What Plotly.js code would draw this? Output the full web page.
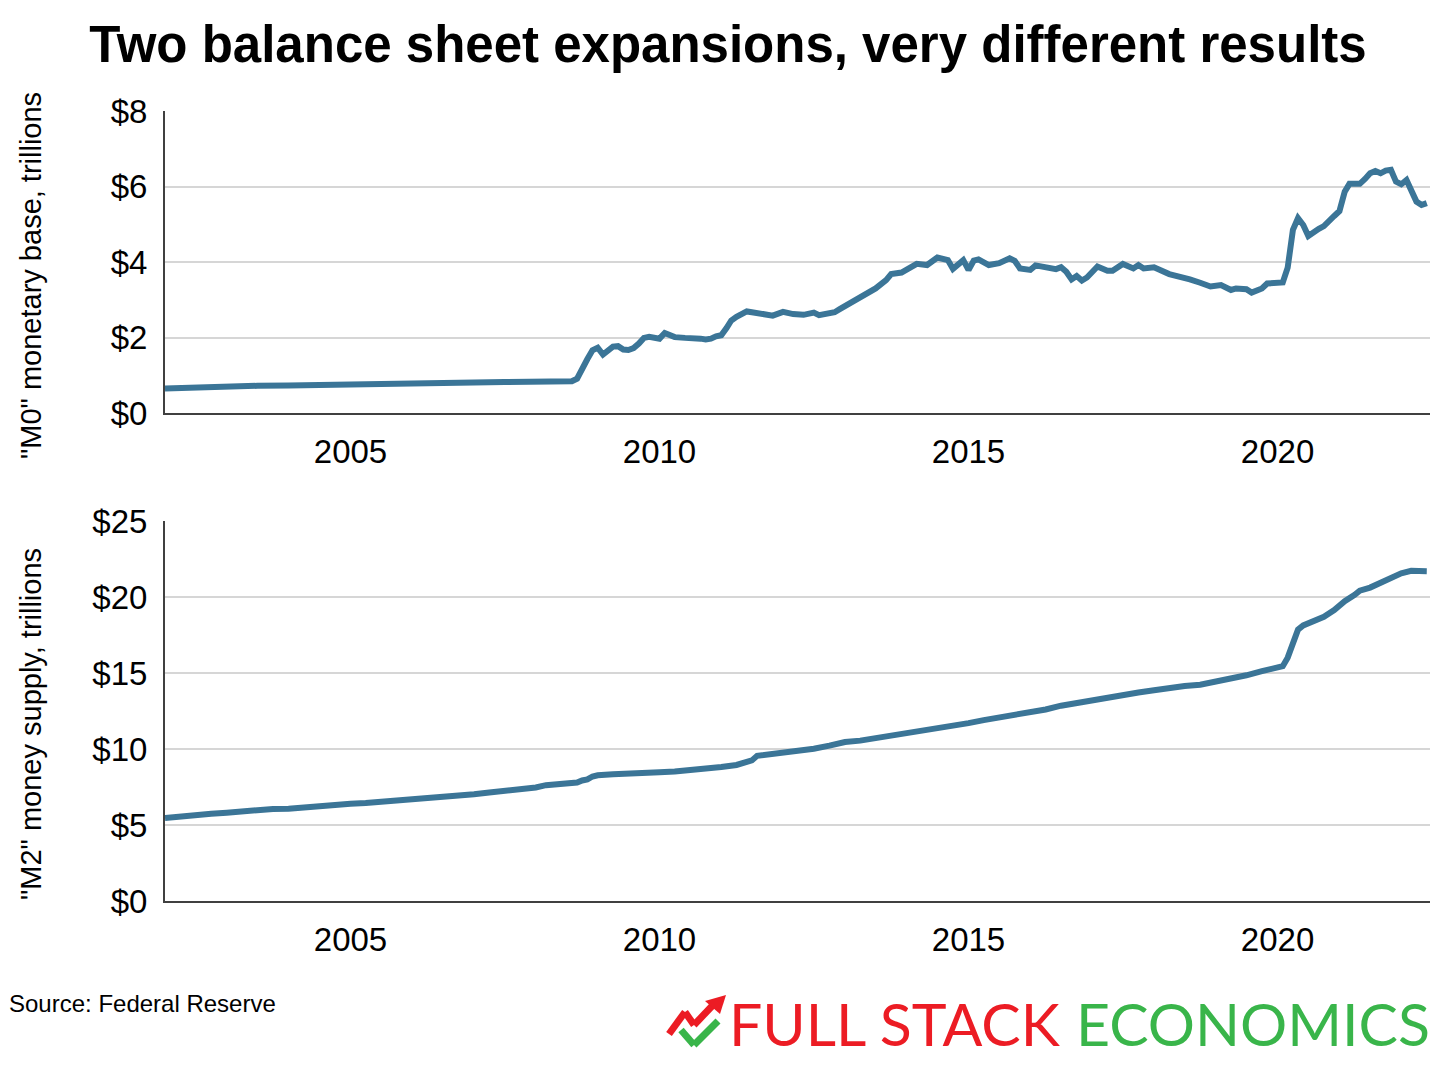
<!DOCTYPE html>
<html><head><meta charset="utf-8">
<script src="https://cdn.plot.ly/plotly-3.0.1.min.js"></script>
<style>html,body{margin:0;padding:0;background:#fff}#chart{width:1456px;height:1092px}</style>
</head><body><div id="chart"></div>
<script>
// "M0" monetary base, trillions of dollars
const m0Dates = ['2002-01','2002-07','2003-01','2003-07','2004-01','2004-07','2005-01','2005-07','2006-01','2006-07','2007-01','2007-07','2008-01','2008-07','2008-08','2008-09','2008-10','2008-11','2008-12',
'2009-01','2009-02','2009-03','2009-04','2009-05','2009-06','2009-07','2009-08','2009-09','2009-10','2009-11','2009-12',
'2010-01','2010-02','2010-03','2010-04','2010-06','2010-08','2010-09','2010-10','2010-11','2010-12',
'2011-01','2011-02','2011-03','2011-04','2011-05','2011-06','2011-07','2011-09','2011-11',
'2012-01','2012-03','2012-05','2012-07','2012-08','2012-10','2012-11','2012-12',
'2013-02','2013-04','2013-07','2013-09','2013-10','2013-12',
'2014-02','2014-03','2014-05','2014-06','2014-07','2014-09','2014-10','2014-12',
'2015-01','2015-02','2015-03','2015-05','2015-07','2015-09','2015-10','2015-11',
'2016-01','2016-02','2016-04','2016-06','2016-07','2016-08','2016-09','2016-10','2016-11','2016-12',
'2017-02','2017-04','2017-05','2017-07','2017-09','2017-10','2017-11',
'2018-01','2018-04','2018-06','2018-08','2018-10','2018-12',
'2019-02','2019-04','2019-05','2019-07','2019-08','2019-10','2019-11','2019-12',
'2020-01','2020-02','2020-03','2020-04','2020-05','2020-06','2020-07','2020-08','2020-09','2020-10','2020-11','2020-12',
'2021-01','2021-02','2021-03','2021-04','2021-05','2021-06','2021-07','2021-08','2021-09','2021-10','2021-11','2021-12',
'2022-01','2022-02','2022-03','2022-04','2022-05','2022-06'];
const m0Values = [0.65,0.68,0.70,0.72,0.73,0.75,0.77,0.78,0.79,0.80,0.81,0.82,0.82,0.83,0.84,0.91,1.13,1.43,1.66,
1.73,1.55,1.65,1.76,1.77,1.68,1.67,1.72,1.84,1.99,2.02,1.99,
1.97,2.12,2.06,2.01,1.99,1.99,1.97,1.95,1.97,2.03,
2.06,2.25,2.45,2.55,2.62,2.69,2.67,2.64,2.58,
2.68,2.62,2.60,2.66,2.59,2.63,2.67,2.75,
2.92,3.08,3.30,3.52,3.68,3.72,
3.86,3.95,3.92,4.01,4.12,4.05,3.82,4.05,
3.79,4.04,4.07,3.92,3.97,4.10,4.03,3.83,
3.79,3.91,3.86,3.81,3.86,3.74,3.54,3.63,3.51,3.59,
3.88,3.77,3.77,3.95,3.83,3.92,3.83,
3.86,3.68,3.63,3.54,3.45,3.35,
3.39,3.26,3.30,3.28,3.19,3.30,3.43,3.43,
3.43,3.46,3.85,4.85,5.16,4.98,4.69,4.80,4.88,4.95,5.11,5.22,
5.35,5.86,6.07,6.06,6.07,6.20,6.35,6.41,6.35,6.42,6.44,6.13,
6.06,6.17,5.91,5.60,5.51,5.56];

// "M2" money supply, trillions of dollars
const m2Dates = ['2002-01','2002-04','2002-07','2002-10','2003-01','2003-04','2003-07','2003-10','2004-01','2004-04','2004-07','2004-10',
'2005-01','2005-04','2005-07','2005-10','2006-01','2006-04','2006-07','2006-10','2007-01','2007-04','2007-07','2007-10',
'2008-01','2008-03','2008-06','2008-09','2008-10','2008-11','2008-12','2009-01','2009-04','2009-07','2009-10',
'2010-01','2010-04','2010-07','2010-10','2011-01','2011-04','2011-07','2011-08','2011-10',
'2012-01','2012-04','2012-07','2012-10','2013-01','2013-04','2013-07','2013-10','2014-01','2014-04','2014-07','2014-10',
'2015-01','2015-04','2015-07','2015-10','2016-01','2016-04','2016-07','2016-10','2017-01','2017-04','2017-07','2017-10',
'2018-01','2018-04','2018-07','2018-10','2019-01','2019-04','2019-07','2019-10',
'2020-01','2020-02','2020-03','2020-04','2020-05','2020-06','2020-07','2020-08','2020-10','2020-12',
'2021-02','2021-04','2021-05','2021-07','2021-09','2021-11','2022-01','2022-03','2022-04','2022-06'];
const m2Values = [5.46,5.52,5.64,5.74,5.81,5.88,6.05,6.06,6.07,6.17,6.24,6.30,
6.40,6.45,6.52,6.60,6.69,6.75,6.84,6.92,7.03,7.14,7.24,7.36,
7.47,7.62,7.68,7.79,7.93,8.00,8.19,8.27,8.34,8.41,8.42,
8.47,8.52,8.60,8.71,8.82,8.95,9.25,9.55,9.62,
9.76,9.88,10.02,10.22,10.46,10.55,10.70,10.86,11.04,11.20,11.38,11.50,
11.70,11.90,12.05,12.20,12.38,12.60,12.85,13.03,13.24,13.43,13.60,13.72,
13.86,14.02,14.15,14.23,14.43,14.56,14.85,15.12,
15.41,15.45,16.01,17.05,17.85,18.13,18.28,18.38,18.70,19.14,
19.73,20.15,20.42,20.62,20.93,21.25,21.56,21.72,21.68,21.70];

const yearTicks = ['2005-01-01','2010-01-01','2015-01-01','2020-01-01'];
const yearLabels = ['2005','2010','2015','2020'];
const m0Ticks = [0,2,4,6,8];
const m2Ticks = [0,5,10,15,20,25];

const LINE = '#3b7597';
const FONT = 'Liberation Sans, Arial, sans-serif';
const W = 1456, H = 1092, ML = 165, MR = 26, MT = 111, MB = 191;
const PW = W - ML - MR, PH = H - MT - MB;
const px = v => (v - ML) / PW;
const py = v => (H - MB - v) / PH;

const traces = [
  {x: m0Dates, y: m0Values, type: 'scatter', mode: 'lines', line: {color: LINE, width: 6}, xaxis: 'x', yaxis: 'y', hoverinfo: 'skip'},
  {x: m2Dates, y: m2Values, type: 'scatter', mode: 'lines', line: {color: LINE, width: 6}, xaxis: 'x2', yaxis: 'y2', hoverinfo: 'skip'}
];

const xCommon = {
  type: 'date', range: ['2002-01-01', '2022-06-20'], tickmode: 'array',
  tickvals: yearTicks, ticktext: yearLabels, showgrid: false, zeroline: false,
  showline: true, linecolor: '#404040', linewidth: 2, ticks: '',
  ticklabelstandoff: 8, tickfont: {family: FONT, size: 33, color: '#000'}
};
const yCommon = {
  showgrid: true, gridcolor: '#d6d6d6', gridwidth: 2, zeroline: false,
  showline: true, linecolor: '#404040', linewidth: 2, ticks: '', tickmode: 'array',
  ticklabelstandoff: 9, tickfont: {family: FONT, size: 33, color: '#000'}
};

function seg(x0, y0, x1, y1, color) {
  return {type: 'line', xref: 'paper', yref: 'paper', x0: px(x0), y0: py(y0), x1: px(x1), y1: py(y1),
    line: {color: color, width: 7}};
}
const RED = '#ec1c24', GREEN = '#39b54a';
const shapes = [
  seg(669, 1034, 685, 1012, RED), seg(685, 1012, 694, 1025, RED), seg(694, 1025, 714, 1004, RED),
  {type: 'path', xref: 'paper', yref: 'paper',
   path: 'M' + px(726) + ',' + py(995) + ' L' + px(705) + ',' + py(1001) + ' L' + px(720) + ',' + py(1014) + ' Z',
   fillcolor: RED, line: {width: 0}},
  seg(681, 1030, 694, 1045, GREEN), seg(694, 1045, 718, 1021, GREEN)
];

const layout = {
  width: W, height: H, margin: {l: ML, r: MR, t: MT, b: MB},
  paper_bgcolor: '#fff', plot_bgcolor: '#fff', showlegend: false,
  title: {text: '<b>Two balance sheet expansions, very different results</b>', xref: 'container', yref: 'container',
    x: 0.5, xanchor: 'center', y: 1 - 44 / H, yanchor: 'middle', font: {family: FONT, size: 51, color: '#000'}},
  xaxis: Object.assign({}, xCommon, {anchor: 'y'}),
  xaxis2: Object.assign({}, xCommon, {anchor: 'y2'}),
  yaxis: Object.assign({}, yCommon, {domain: [py(413), 1], range: [0, 8], tickvals: m0Ticks, ticktext: m0Ticks.map(v => '$' + v)}),
  yaxis2: Object.assign({}, yCommon, {domain: [0, py(521)], range: [0, 25], tickvals: m2Ticks, ticktext: m2Ticks.map(v => '$' + v)}),
  shapes: shapes,
  annotations: [
    {text: '"M0" monetary base, trillions', xref: 'paper', yref: 'paper', x: px(31), y: py(276), textangle: -90,
     showarrow: false, xanchor: 'center', yanchor: 'middle', font: {family: FONT, size: 29, color: '#000'}},
    {text: '"M2" money supply, trillions', xref: 'paper', yref: 'paper', x: px(31), y: py(724), textangle: -90,
     showarrow: false, xanchor: 'center', yanchor: 'middle', font: {family: FONT, size: 29, color: '#000'}},
    {text: 'Source: Federal Reserve', xref: 'paper', yref: 'paper', x: px(7), y: py(1003), showarrow: false,
     xanchor: 'left', yanchor: 'middle', font: {family: FONT, size: 24, color: '#000'}},
    {text: 'FULL STACK', xref: 'paper', yref: 'paper', x: px(1063), y: py(1023), showarrow: false,
     xanchor: 'right', yanchor: 'middle', font: {family: 'Lato, sans-serif', size: 59, color: RED}},
    {text: 'ECONOMICS', xref: 'paper', yref: 'paper', x: px(1074), y: py(1023), showarrow: false,
     xanchor: 'left', yanchor: 'middle', font: {family: 'Lato, sans-serif', size: 59, color: GREEN}}
  ]
};

Plotly.newPlot('chart', traces, layout, {staticPlot: true, displayModeBar: false});
</script>
</body></html>
